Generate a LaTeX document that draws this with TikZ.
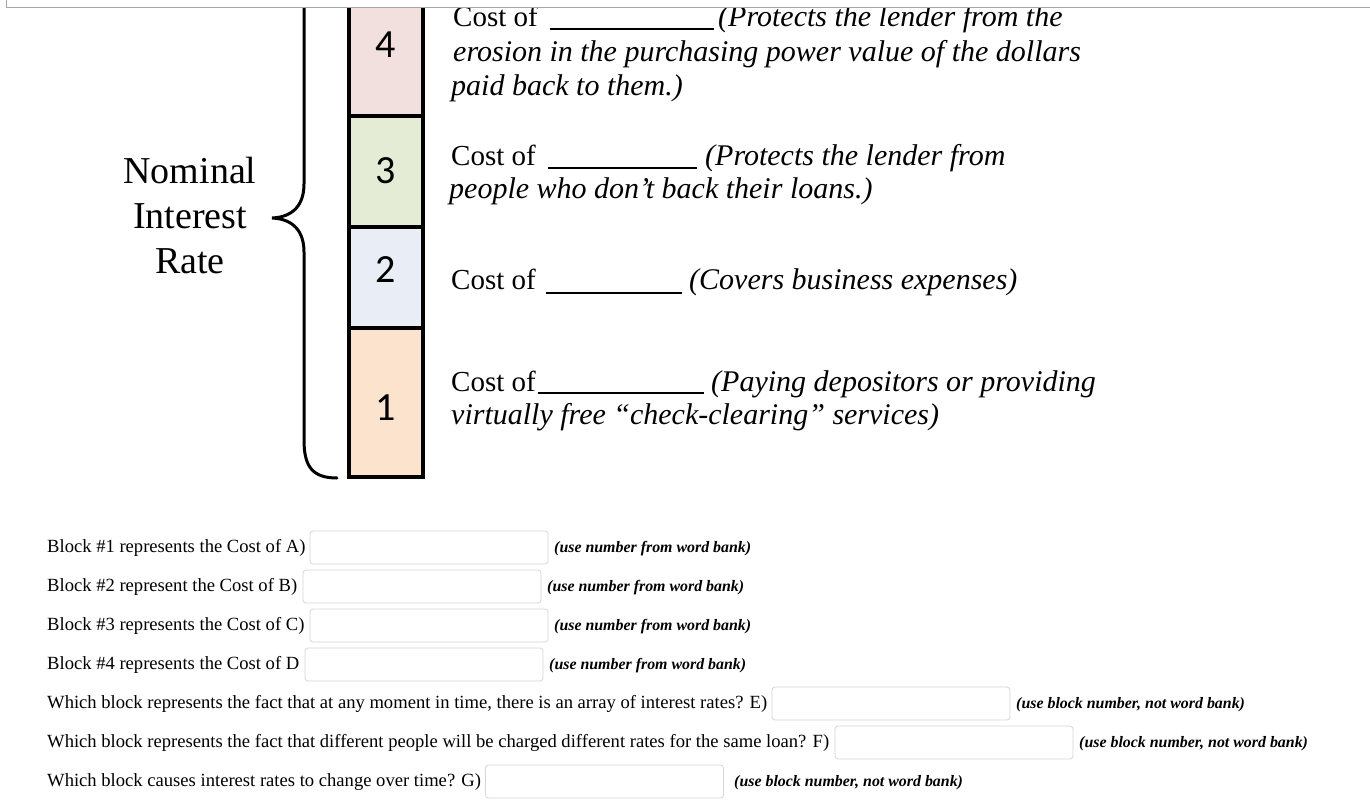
\documentclass[tikz,border=0pt]{standalone}
\usepackage{fontspec}
\setmainfont{Liberation Serif}
\newfontfamily\numfont{Carlito}
\begin{document}
\begin{tikzpicture}[x=1pt,y=-1pt,
  blk/.style={draw=black,line width=4pt},
  numtxt/.style={font=\numfont\fontsize{40}{40}\selectfont,inner sep=0pt},
  costtxt/.style={font=\fontsize{29}{29}\selectfont,inner sep=0pt,anchor=base west},
  ittxt/.style={font=\fontsize{30}{30}\selectfont\itshape,inner sep=0pt,anchor=base west},
  blank/.style={line width=2pt},
  qtxt/.style={font=\fontsize{18.6}{18.6}\selectfont,inner sep=0pt,anchor=base west},
  hint/.style={font=\fontsize{15.9}{15.9}\selectfont\bfseries\itshape,inner sep=0pt,anchor=base west},
  field/.style={draw=black!16,line width=0.8pt,rounded corners=3pt,fill=white,minimum width=238pt,minimum height=33pt,inner sep=0pt}
]
\useasboundingbox (0,0) rectangle (1370,809);
\fill[white] (0,0) rectangle (1370,809);
\begin{scope}
\clip (0,8) rectangle (1370,809);
% blocks
\filldraw[blk,fill={rgb,255:red,242;green,224;blue,222}] (349,-20) rectangle (423,116);
\filldraw[blk,fill={rgb,255:red,228;green,236;blue,214}] (349,116) rectangle (423,227);
\filldraw[blk,fill={rgb,255:red,233;green,238;blue,246}] (349,227) rectangle (423,328);
\filldraw[blk,fill={rgb,255:red,252;green,227;blue,206}] (349,328) rectangle (423,477);
\node[numtxt] (n4) at (386,45) {4};
\node[numtxt] (n3) at (386,171) {3};
\node[numtxt] (n2) at (386,270) {2};
\node[numtxt] (n1) at (386,408) {1};
% brace
\draw[line width=3pt,line cap=round] (337,478) .. controls (312,478) and (304,466) .. (304,440) -- (304,252)
  .. controls (304,232) and (294,219) .. (272,218)
  .. controls (294,217) and (304,204) .. (304,184) -- (304,-4)
  .. controls (304,-30) and (312,-42) .. (337,-42);
% block 4 text
\node[costtxt] (c4) at (453,26) {Cost of};
\draw[blank] (550,29) -- (714,29);
\node[ittxt] (i4a) at (718,26) {(Protects the lender from the};
\node[ittxt] (i4b) at (453,61) {erosion in the purchasing power value of the dollars};
\node[ittxt] (i4c) at (451,95) {paid back to them.)};
% block 3 text
\node[costtxt] (c3) at (451,165) {Cost of};
\draw[blank] (548,168) -- (697,168);
\node[ittxt] (i3a) at (705,165) {(Protects the lender from};
\node[ittxt] (i3b) at (449,198) {people who don’t back their loans.)};
% block 2 text
\node[costtxt] (c2) at (451,289) {Cost of};
\draw[blank] (546,293) -- (682,293);
\node[ittxt] (i2a) at (689,289) {(Covers business expenses)};
% block 1 text
\node[costtxt] (c1) at (451,391) {Cost of};
\draw[blank] (538,393) -- (704,393);
\node[ittxt] (i1a) at (711,391) {(Paying depositors or providing};
\node[ittxt] (i1b) at (451,424) {virtually free “check-clearing” services)};
\end{scope}
% top edge
\draw[black!35,line width=1pt] (6,0) -- (6,7) -- (1370,7);
% nominal interest rate
\node[font=\fontsize{38}{45}\selectfont,align=center,inner sep=0pt] (nir) at (190,215) {Nominal\\Interest\\Rate};
% form
\node[qtxt] (qa) at (47,552) {Block \#1 represents the Cost of A)};
\node[field] (fa) at (429,547.5) {};
\node[hint] (ha) at (554,552) {(use number from word bank)};
\node[qtxt] (qb) at (47,591) {Block \#2 represent the Cost of B)};
\node[field] (fb) at (422,586.5) {};
\node[hint] (hb) at (547,591) {(use number from word bank)};
\node[qtxt] (qc) at (47,630) {Block \#3 represents the Cost of C)};
\node[field] (fc) at (429,625.5) {};
\node[hint] (hc) at (554,630) {(use number from word bank)};
\node[qtxt] (qd) at (47,669) {Block \#4 represents the Cost of D};
\node[field] (fd) at (424,664.5) {};
\node[hint] (hd) at (549,669) {(use number from word bank)};
\node[qtxt] (qe) at (47,708) {Which block represents the fact that at any moment in time, there is an array of interest rates? E)};
\node[field] (fe) at (891,703.5) {};
\node[hint] (he) at (1016,708) {(use block number, not word bank)};
\node[qtxt] (qf) at (47,747) {Which block represents the fact that different people will be charged different rates for the same loan? F)};
\node[field] (ff) at (954,742.5) {};
\node[hint] (hf) at (1079,747) {(use block number, not word bank)};
\node[qtxt] (qg) at (47,786) {Which block causes interest rates to change over time? G)};
\node[field] (fg) at (604.5,781.5) {};
\node[hint] (hg) at (734,786) {(use block number, not word bank)};
\end{tikzpicture}
\end{document}
